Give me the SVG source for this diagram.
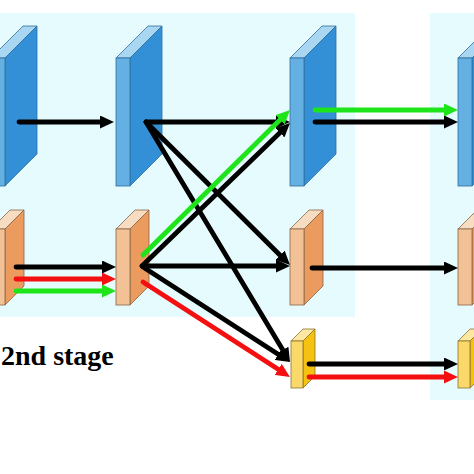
<svg xmlns="http://www.w3.org/2000/svg" width="474" height="474" viewBox="0 0 474 474">
<style>
.bf{fill:#64b0e2;stroke:#2f6f9f;stroke-width:0.8}
.bs{fill:#3390d6;stroke:#2f6f9f;stroke-width:0.8}
.bt{fill:#a9d6f1;stroke:#2f6f9f;stroke-width:0.8}
.of{fill:#f2c296;stroke:#8a6446;stroke-width:0.8}
.os{fill:#eb9b5d;stroke:#8a6446;stroke-width:0.8}
.ot{fill:#f6dcc0;stroke:#8a6446;stroke-width:0.8}
.yf{fill:#fbd86a;stroke:#8a7430;stroke-width:0.8}
.ys{fill:#f5c212;stroke:#8a7430;stroke-width:0.8}
.yt{fill:#fde8a2;stroke:#8a7430;stroke-width:0.8}
.k{stroke:#000;stroke-width:4.8;fill:none;stroke-linecap:round;marker-end:url(#ak)}
.r{stroke:#f41010;stroke-width:4.8;fill:none;stroke-linecap:round;marker-end:url(#ar)}
.g{stroke:#1ee41a;stroke-width:4.8;fill:none;stroke-linecap:round;marker-end:url(#ag)}
.lbl{font-family:"Liberation Serif",serif;font-weight:bold;font-size:28px;fill:#000}
</style>
<defs>
<marker id="ak" viewBox="0 0 14 13" refX="5" refY="6.5" markerWidth="14" markerHeight="13" orient="auto" markerUnits="userSpaceOnUse"><path d="M0,0 L14,6.5 L0,13 z" fill="#000"/></marker>
<marker id="ar" viewBox="0 0 14 13" refX="5" refY="6.5" markerWidth="14" markerHeight="13" orient="auto" markerUnits="userSpaceOnUse"><path d="M0,0 L14,6.5 L0,13 z" fill="#f41010"/></marker>
<marker id="ag" viewBox="0 0 14 13" refX="5" refY="6.5" markerWidth="14" markerHeight="13" orient="auto" markerUnits="userSpaceOnUse"><path d="M0,0 L14,6.5 L0,13 z" fill="#1ee41a"/></marker>
</defs>
<rect width="474" height="474" fill="#fff"/>
<rect x="0" y="13" width="355" height="304" fill="#e5fbfd"/>
<rect x="430" y="13" width="44" height="387" fill="#e5fbfd"/>

<g id="blue1"><polygon class="bt" points="-9,58 23,26 37,26 5,58"/><polygon class="bs" points="5,58 37,26 37,154 5,186"/><rect class="bf" x="-9" y="58" width="14" height="128"/></g>
<g id="blue2"><polygon class="bt" points="116,58 148,26 162,26 130,58"/><polygon class="bs" points="130,58 162,26 162,154 130,186"/><rect class="bf" x="116" y="58" width="14" height="128"/></g>
<g id="blue3"><polygon class="bt" points="290,58 322,26 336,26 304,58"/><polygon class="bs" points="304,58 336,26 336,154 304,186"/><rect class="bf" x="290" y="58" width="14" height="128"/></g>
<g id="blue4"><polygon class="bt" points="458,58 490,26 504,26 472,58"/><polygon class="bs" points="472,58 504,26 504,154 472,186"/><rect class="bf" x="458" y="58" width="14" height="128"/></g>

<g id="orange1"><polygon class="ot" points="-9,229 10,210 24,210 5,229"/><polygon class="os" points="5,229 24,210 24,286 5,305"/><rect class="of" x="-9" y="229" width="14" height="76"/></g>
<g id="orange2"><polygon class="ot" points="116,229 135,210 149,210 130,229"/><polygon class="os" points="130,229 149,210 149,286 130,305"/><rect class="of" x="116" y="229" width="14" height="76"/></g>
<g id="orange3"><polygon class="ot" points="290,229 309,210 323,210 304,229"/><polygon class="os" points="304,229 323,210 323,286 304,305"/><rect class="of" x="290" y="229" width="14" height="76"/></g>
<g id="orange4"><polygon class="ot" points="458,229 477,210 491,210 472,229"/><polygon class="os" points="472,229 491,210 491,286 472,305"/><rect class="of" x="458" y="229" width="14" height="76"/></g>

<g id="yellow3"><polygon class="yt" points="291,341 303,329 315,329 303,341"/><polygon class="ys" points="303,341 315,329 315,376 303,388"/><rect class="yf" x="291" y="341" width="12" height="47"/></g>
<g id="yellow4"><polygon class="yt" points="458,341 470,329 482,329 470,341"/><polygon class="ys" points="470,341 482,329 482,376 470,388"/><rect class="yf" x="458" y="341" width="12" height="47"/></g>

<g id="connectors">
<path class="k" d="M19,122 H105"/>
<path class="k" d="M16,267 H107"/>
<path class="r" d="M16,279 H107"/>
<path class="g" d="M16,291 H107"/>
<path class="k" d="M146,122 H281"/>
<path class="k" d="M142,266 H281"/>
<path class="k" d="M146,122 L283.6,258.7"/>
<path class="k" d="M146,122 L285.4,354.3"/>
<path class="k" d="M143,267 L282.4,357.1"/>
<path class="r" d="M143,282 L282.4,372.1"/>
<path class="k" d="M142,266 L283.5,129.3"/>
<path class="g" d="M143,255 L283.6,116.3"/>
<path class="g" d="M315,110 H449"/>
<path class="k" d="M315,122 H449"/>
<path class="k" d="M312,268 H449"/>
<path class="k" d="M309,364 H449"/>
<path class="r" d="M309,377 H449"/>
</g>
<text class="lbl" x="1" y="365">2nd stage</text>
</svg>
